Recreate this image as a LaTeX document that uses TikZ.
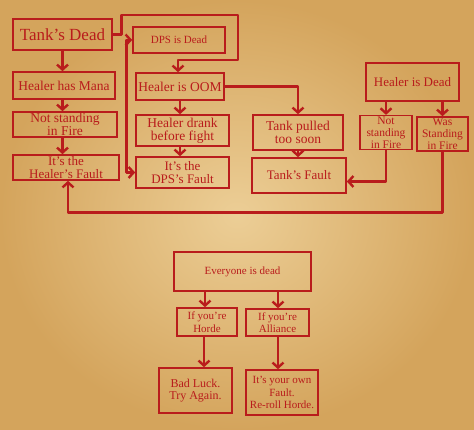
\documentclass[tikz,border=0pt]{standalone}
\usepackage{fontspec}
\setmainfont{Liberation Serif}
\usetikzlibrary{arrows.meta,calc}
\definecolor{inkred}{RGB}{185,28,28}
\definecolor{paperlight}{RGB}{236,206,150}
\definecolor{paperdark}{RGB}{212,164,92}
\tikzset{
  box/.style={draw=inkred, line width=1.6pt, text=inkred, align=center, inner sep=1pt},
  conn/.style={draw=inkred, line width=2.8pt, line join=round},
  arr/.style={conn, -{Straight Barb[length=5pt,width=11pt,line width=2.4pt]}},
  darr/.style={conn, {Straight Barb[length=5pt,width=11pt,line width=2.4pt]}-{Straight Barb[length=5pt,width=11pt,line width=2.4pt]}}
}
\begin{document}
\begin{tikzpicture}[x=1pt,y=-1pt]
\shade[inner color=paperlight, outer color=paperdark] (0,0) rectangle (474,430);
\useasboundingbox (0,0) rectangle (474,430);
% boxes
\node[box, minimum width=99pt, minimum height=31pt, font=\fontsize{17}{18}\selectfont] (tdead) at (62.5,34.5) {Tank’s Dead};
\node[box, minimum width=92pt, minimum height=26pt, font=\fontsize{11}{12}\selectfont] (dpsdead) at (179,40) {DPS is Dead};
\node[box, minimum width=102pt, minimum height=27pt, font=\fontsize{13.5}{14}\selectfont] (mana) at (64,85.5) {Healer has Mana};
\node[box, minimum width=88pt, minimum height=27pt, font=\fontsize{13.5}{14}\selectfont] (oom) at (180,86.5) {Healer is OOM};
\node[box, minimum width=104pt, minimum height=25pt, font=\fontsize{13.5}{12.5}\selectfont] (fireL) at (65,124.5) {Not standing\\in Fire};
\node[box, minimum width=93pt, minimum height=31pt, font=\fontsize{13.5}{13}\selectfont] (drank) at (182.5,130.5) {Healer drank\\before fight};
\node[box, minimum width=106pt, minimum height=25pt, font=\fontsize{13}{12.5}\selectfont] (hfault) at (66,167.5) {It’s the\\Healer’s Fault};
\node[box, minimum width=93pt, minimum height=31pt, font=\fontsize{13}{13}\selectfont] (dfault) at (182.5,172.5) {It’s the\\DPS’s Fault};
\node[box, minimum width=90pt, minimum height=35pt, font=\fontsize{13.5}{13}\selectfont] (pulled) at (298,132.5) {Tank pulled\\too soon};
\node[box, minimum width=94pt, minimum height=35pt, font=\fontsize{13}{13}\selectfont] (tfault) at (299,175.5) {Tank’s Fault};
\node[box, minimum width=93pt, minimum height=38pt, font=\fontsize{13}{13}\selectfont] (hdead) at (412.5,82) {Healer is Dead};
\node[box, minimum width=52pt, minimum height=33pt, font=\fontsize{11.5}{12}\selectfont] (fireR) at (386,132.5) {Not\\standing\\in Fire};
\node[box, minimum width=51pt, minimum height=34pt, font=\fontsize{11.5}{12}\selectfont] (wasfire) at (442.5,134) {Was\\Standing\\in Fire};
\node[box, minimum width=137pt, minimum height=39pt, font=\fontsize{11}{12}\selectfont] (everyone) at (242.5,271.5) {Everyone is dead};
\node[box, minimum width=60pt, minimum height=28pt, font=\fontsize{11}{12.5}\selectfont] (horde) at (207,322) {If you’re\\Horde};
\node[box, minimum width=63pt, minimum height=27pt, font=\fontsize{11}{12.5}\selectfont] (alliance) at (277.5,322.5) {If you’re\\Alliance};
\node[box, minimum width=73pt, minimum height=45pt, font=\fontsize{12}{12.5}\selectfont] (badluck) at (195.5,390.5) {Bad Luck.\\Try Again.};
\node[box, minimum width=72pt, minimum height=45pt, font=\fontsize{11}{12.5}\selectfont] (ownfault) at (282,392.5) {It’s your own\\Fault.\\Re-roll Horde.};
% connectors
\draw[arr] (tdead.south) -- (tdead.south |- mana.north);
\draw[arr] (mana.south -| tdead.south) -- (tdead.south |- fireL.north);
\draw[arr] (fireL.south -| tdead.south) -- (tdead.south |- hfault.north);
\draw[arr] (tdead.east) -- ++(9,0) |- (238,15) |- (178,60) -- (178,0 |- oom.north);
\draw[darr] (dpsdead.west) -- ++(-6,0) |- (dfault.west);
\draw[arr] (oom.south) -- (oom.south |- drank.north);
\draw[arr] (drank.south -| oom.south) -- (oom.south |- dfault.north);
\draw[arr] (oom.east) -| (pulled.north);
\draw[arr] (pulled.south) -- (pulled.south |- tfault.north);
\draw[arr] (hdead.south -| fireR.north) -- (fireR.north);
\draw[arr] (hdead.south -| wasfire.north) -- (wasfire.north);
\draw[arr] (fireR.south) |- ([yshift=-6pt]tfault.east);
\draw[arr] (wasfire.south) -- ++(0,61) -| ([xshift=2pt]hfault.south);
\draw[arr] (everyone.south -| 205,0) -- (205,0 |- horde.north);
\draw[arr] (everyone.south -| 278,0) -- (278,0 |- alliance.north);
\draw[arr] (horde.south -| 204,0) -- (204,0 |- badluck.north);
\draw[arr] (alliance.south -| 278,0) -- (278,0 |- ownfault.north);
\end{tikzpicture}
\end{document}
